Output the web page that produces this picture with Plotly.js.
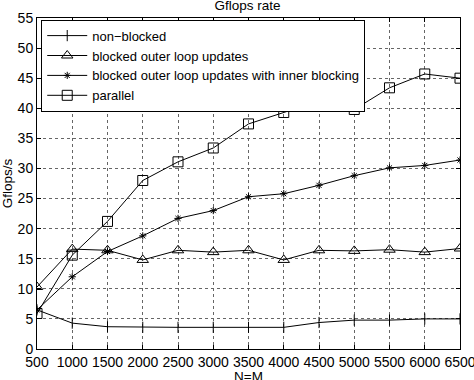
<!DOCTYPE html>
<html><head><meta charset="utf-8">
<script src="https://cdn.plot.ly/plotly-3.0.1.min.js"></script>
<style>html,body{margin:0;padding:0;background:#fff}#chart{width:474px;height:380px}</style>
</head><body><div id="chart"></div>
<script>
const sizes = [500,1000,1500,2000,2500,3000,3500,4000,4500,5000,5500,6000,6500];
const nonBlocked = [6.5,4.3,3.7,3.6,3.6,3.6,3.6,3.6,4.4,4.8,4.8,5.0,5.0];
const blockedOuter = [10.3,16.6,16.4,14.8,16.4,16.1,16.4,14.8,16.4,16.3,16.5,16.1,16.7];
const blockedInner = [6.5,12.0,16.2,18.8,21.7,23.0,25.3,25.8,27.2,28.8,30.1,30.5,31.4];
const parallel = [5.9,15.6,21.2,28.0,31.1,33.4,37.4,39.3,41.2,39.8,43.4,45.7,45.0];
const seriesNames = ["non\u2212blocked","blocked outer loop updates","blocked outer loop updates with inner blocking","parallel"];
const xTicks = sizes.map(String);

const font = "Liberation Sans, Arial, sans-serif";
function tr(y, name, sym, size){
  return {x: sizes, y: y, name: name, type:"scatter", mode:"lines+markers",
    line:{color:"#000", width:1},
    marker:{symbol:sym, size:size, color:"#000", line:{color:"#000", width:1}}};
}
const data = [
  tr(nonBlocked, seriesNames[0], "line-ns-open", 8),
  tr(blockedOuter, seriesNames[1], "triangle-up-open", 10),
  tr(blockedInner, seriesNames[2], "asterisk-open", 6),
  tr(parallel, seriesNames[3], "square-open", 10)
];
const axBase = {showline:true, linecolor:"#000", linewidth:1, mirror:"ticks",
  ticks:"inside", ticklen:4, tickcolor:"#000", showgrid:true,
  gridcolor:"#666", griddash:"dot", gridwidth:1, zeroline:false,
  ticklabeloverflow:"allow",
  tickfont:{family:font, size:14, color:"#000"}};
const layout = {
  width:474, height:380,
  margin:{l:37, r:14, t:18, b:31},
  paper_bgcolor:"#fff", plot_bgcolor:"#fff",
  title:{text:"Gflops rate", font:{family:font, size:13.5, color:"#000"}, x:0.522, xanchor:"center", y:0.999, yanchor:"top", pad:{t:0,b:0}},
  xaxis: Object.assign({}, axBase, {range:[500,6500], tickvals:sizes, ticktext:xTicks}),
  yaxis: Object.assign({}, axBase, {range:[0,55], dtick:5,
    title:{text:"Gflops/s", font:{family:font, size:13.5, color:"#000"}, standoff:4}}),
  annotations:[{text:"N=M", xref:"paper", yref:"paper", x:0.5, y:-0.083, xanchor:"center", yanchor:"middle",
    showarrow:false, font:{family:font, size:13.5, color:"#000"}}],
  showlegend:true,
  legend:{x:0.01, y:0.995, xanchor:"left", yanchor:"top", bgcolor:"#fff",
    bordercolor:"#000", borderwidth:1, font:{family:font, size:13, color:"#000"},
    itemwidth:40, tracegroupgap:0}
};
Plotly.newPlot("chart", data, layout, {displayModeBar:false, staticPlot:true});
</script></body></html>
